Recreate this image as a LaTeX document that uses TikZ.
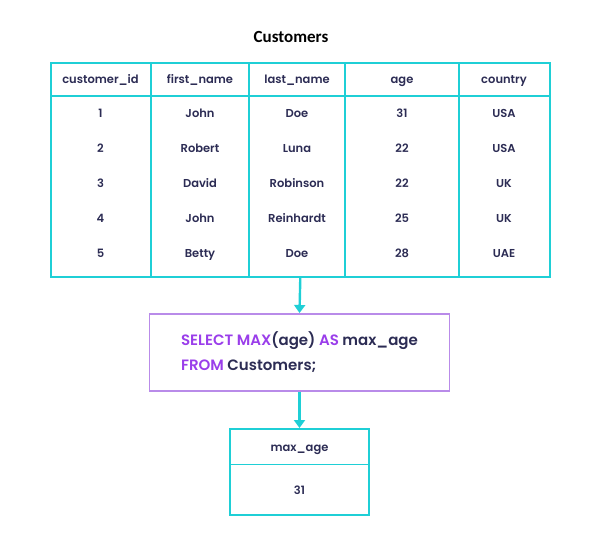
\documentclass[tikz,border=0pt]{standalone}
\usepackage{fontspec}
\setmainfont{Poppins}[UprightFont={* SemiBold}]
\newfontfamily\titlefont{Carlito}
\usetikzlibrary{positioning,arrows.meta,shapes.multipart}
\definecolor{tblcyan}{HTML}{1FCFD6}
\definecolor{sqlpurple}{HTML}{B98BE9}
\definecolor{kwpurple}{HTML}{9A3EEA}
\definecolor{txtnavy}{HTML}{2C2C54}

\begin{document}
\begin{tikzpicture}[x=1pt,y=-1pt,
    tline/.style={draw=tblcyan, line width=1.6pt},
    cell/.style={text=txtnavy, font=\fontsize{11.5}{13}\selectfont, inner sep=0pt, text height=8pt, text depth=0pt},
    flow/.style={draw=tblcyan, line width=2.4pt, -{Triangle[width=11pt,length=8pt]}},
    sqlbox/.style={draw=sqlpurple, line width=1.6pt, minimum width=300pt, minimum height=77pt, align=left,
        text=txtnavy, font=\fontsize{15}{25}\selectfont},
    result/.style={rectangle split, rectangle split parts=2, tline, minimum width=139pt, inner ysep=0pt,
        text=txtnavy, font=\fontsize{11.5}{13}\selectfont}]

                \useasboundingbox (0,0) rectangle (600,542);

                \node[font=\titlefont\bfseries\fontsize{17}{19}\selectfont] (title) at (291,37) {Customers};

                \node[tline, minimum width=499pt, minimum height=214pt, anchor=north west] (tbl) at (50,62) {};
                \draw[tline] (tbl.west |- 0,96) -- (tbl.east |- 0,96);
                \foreach \cx in {151,249,345,459}{
                    \draw[tline] (tbl.north -| \cx,0) -- (tbl.south -| \cx,0);
                }

                \foreach \cx/ \h [count=\i] in {100.5/customer\_id, 200/first\_name, 297/last\_name, 402/age, 504/country}{
                    \node[cell] (h\i) at (\cx,79) {\h};
                }

                \foreach \r/ \a/ \b/ \c/ \d/ \e in {1/1/John/Doe/31/USA, 2/2/Robert/Luna/22/USA, 3/3/David/Robinson/22/UK,
                    4/4/John/Reinhardt/25/UK, 5/5/Betty/Doe/28/UAE}{
                    \node[cell] (r\r c1) at (100.5,78+35*\r) {\a};
                    \node[cell] (r\r c2) at (200,78+35*\r) {\b};
                    \node[cell] (r\r c3) at (297,78+35*\r) {\c};
                    \node[cell] (r\r c4) at (402,78+35*\r) {\d};
                    \node[cell] (r\r c5) at (504,78+35*\r) {\e};
                }

                \node[sqlbox, anchor=north] (sql) at (299.5,313) {\textcolor{kwpurple}{SELECT MAX}(age) \textcolor{kwpurple}{AS} max\_age\\
                    \textcolor{kwpurple}{FROM} Customers;};

                \node[result, anchor=north] (res) at (299.5,428) {\rule[-12.5pt]{0pt}{34pt}max\_age \nodepart{second} \rule[-19.5pt]{0pt}{49pt}31};

                \draw[flow] (tbl.south) -- (sql.north);
                \draw[flow] (sql.south) -- (res.north);

        \end{tikzpicture}
\end{document}
